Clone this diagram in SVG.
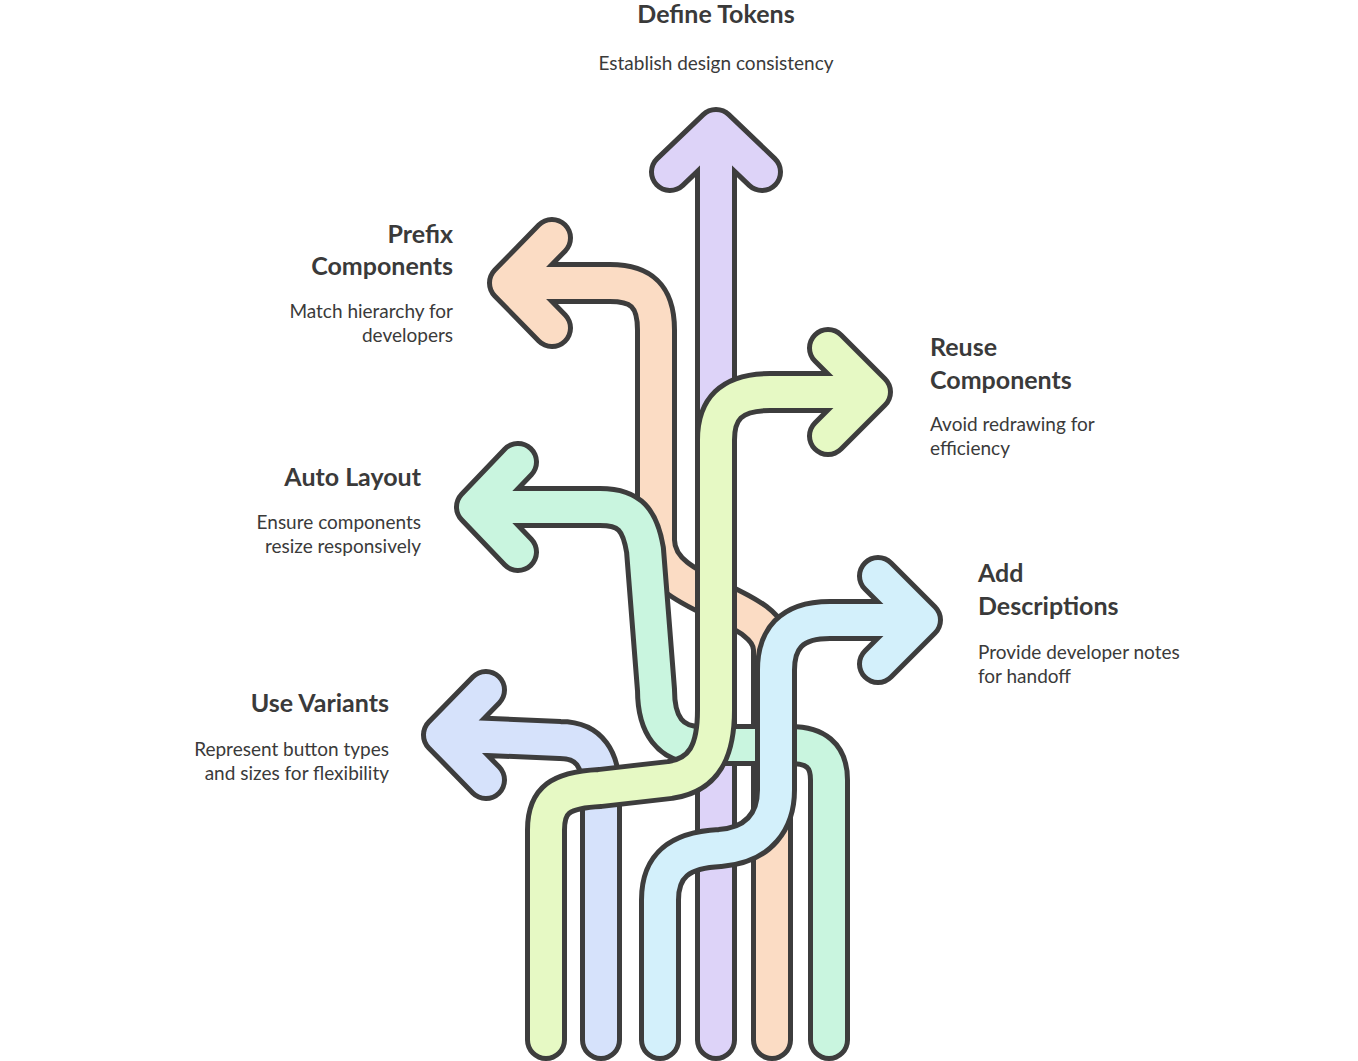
<svg xmlns="http://www.w3.org/2000/svg" width="1358" height="1061" viewBox="0 0 1358 1061">
<style>
.o{fill:none;stroke:#3d3d3d;stroke-width:42;stroke-linecap:round;stroke-linejoin:round}
.c{fill:none;stroke-width:32;stroke-linecap:round;stroke-linejoin:round}
.t{font-family:Lato,"Liberation Sans",sans-serif;font-weight:bold;font-size:25px;fill:#3a3a3a}
.d{font-family:Lato,"Liberation Sans",sans-serif;font-size:19px;fill:#3a3a3a}
</style>
<rect width="1358" height="1061" fill="#fff"/>
<g id="connectors">
<g id="a-tokens"><path class="o" d="M716,1040 L716,128 M670,172 L716,128 L762,172"/><path class="c" stroke="#ddd3f8" d="M716,1040 L716,128 M670,172 L716,128 L762,172"/></g>
<g id="a-prefix"><path class="o" d="M772,1040 L772,650 C772,600 656,600 656,540 L656,330 C656,295 640,283 610,283 L508,283 M552,238 L508,283 L552,328"/><path class="c" stroke="#fbdcc4" d="M772,1040 L772,650 C772,600 656,600 656,540 L656,330 C656,295 640,283 610,283 L508,283 M552,238 L508,283 L552,328"/></g>
<g id="a-auto"><path class="o" d="M829,1040 L829,780 C829,755 815,745 790,745 L700,745 C670,745 656,725 656,690 L645,550 C640,520 630,507 600,507 L475,507 M518,462 L475,507 L518,552"/><path class="c" stroke="#c9f5df" d="M829,1040 L829,780 C829,755 815,745 790,745 L700,745 C670,745 656,725 656,690 L645,550 C640,520 630,507 600,507 L475,507 M518,462 L475,507 L518,552"/></g>
<g id="a-variants"><path class="o" d="M601,1040 L601,790 C601,760 590,740 560,740 L442,735 M486,690 L442,735 L486,780"/><path class="c" stroke="#d6e2fb" d="M601,1040 L601,790 C601,760 590,740 560,740 L442,735 M486,690 L442,735 L486,780"/></g>
<g id="a-reuse"><path class="o" d="M546,1040 L546,830 C546,800 560,790 600,788 L670,780 C705,775 716,750 716,710 L716,440 C716,410 730,392 770,392 L872,392 M828,348 L872,392 L828,436"/><path class="c" stroke="#e6f9c4" d="M546,1040 L546,830 C546,800 560,790 600,788 L670,780 C705,775 716,750 716,710 L716,440 C716,410 730,392 770,392 L872,392 M828,348 L872,392 L828,436"/></g>
<g id="a-desc"><path class="o" d="M660,1040 L660,900 C660,865 680,850 720,848 C760,845 776,820 776,790 L776,670 C776,640 790,620 830,620 L922,620 M878,576 L922,620 L878,664"/><path class="c" stroke="#d3f0fb" d="M660,1040 L660,900 C660,865 680,850 720,848 C760,845 776,820 776,790 L776,670 C776,640 790,620 830,620 L922,620 M878,576 L922,620 L878,664"/></g>
</g>
<g id="n-tokens"><text class="t" x="716" y="23" text-anchor="middle">Define Tokens</text><text class="d" x="716" y="70" text-anchor="middle">Establish design consistency</text></g>
<g id="n-prefix" text-anchor="end"><text class="t" x="453" y="243">Prefix</text><text class="t" x="453" y="275">Components</text><text class="d" x="453" y="318">Match hierarchy for</text><text class="d" x="453" y="342">developers</text></g>
<g id="n-reuse"><text class="t" x="930" y="356">Reuse</text><text class="t" x="930" y="389">Components</text><text class="d" x="930" y="431">Avoid redrawing for</text><text class="d" x="930" y="455">efficiency</text></g>
<g id="n-auto" text-anchor="end"><text class="t" x="421" y="486">Auto Layout</text><text class="d" x="421" y="529">Ensure components</text><text class="d" x="421" y="553">resize responsively</text></g>
<g id="n-desc"><text class="t" x="978" y="582">Add</text><text class="t" x="978" y="615">Descriptions</text><text class="d" x="978" y="659">Provide developer notes</text><text class="d" x="978" y="683">for handoff</text></g>
<g id="n-variants" text-anchor="end"><text class="t" x="389" y="712">Use Variants</text><text class="d" x="389" y="756">Represent button types</text><text class="d" x="389" y="780">and sizes for flexibility</text></g>
</svg>
